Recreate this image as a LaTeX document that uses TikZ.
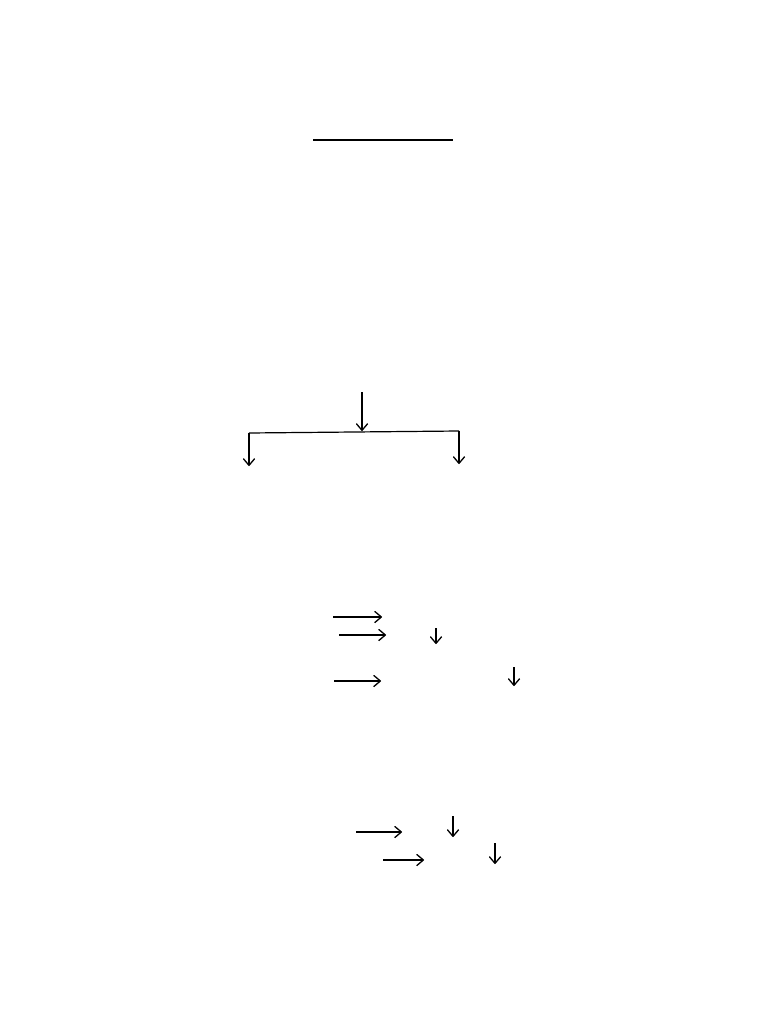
\documentclass[tikz,border=0pt]{standalone}
\usetikzlibrary{arrows.meta}
\begin{document}
\begin{tikzpicture}[x=1pt,y=-1pt,
  conn/.style={line width=1.2pt,draw=black},
  arr/.style={conn,-{Straight Barb[length=6.5pt,width=11pt,line width=1.3pt,round]}},
  rule/.style={line width=2.4pt,draw=black}]
\useasboundingbox[fill=white] (0,0) rectangle (768,1024);
% title rule
\coordinate (ruleL) at (313,140);
\coordinate (ruleR) at (453,140);
\draw[rule] (ruleL) -- (ruleR);
% branching
\coordinate (topS) at (362,392);
\coordinate (topE) at (362,431);
\coordinate (brL) at (249,433);
\coordinate (brR) at (459,431);
\coordinate (leftE) at (249,466);
\coordinate (rightE) at (459,464);
\draw[arr] (topS) -- (topE);
\draw[conn] (brL) -- (brR);
\draw[arr] (brL) -- (leftE);
\draw[arr] (brR) -- (rightE);
% middle group
\coordinate (a1s) at (333,617); \coordinate (a1e) at (382,617);
\coordinate (a2s) at (339,635); \coordinate (a2e) at (386,635);
\coordinate (d1s) at (436,628); \coordinate (d1e) at (436,644);
\coordinate (a3s) at (334,681); \coordinate (a3e) at (381,681);
\coordinate (d2s) at (514,667); \coordinate (d2e) at (514,686);
\draw[arr] (a1s) -- (a1e);
\draw[arr] (a2s) -- (a2e);
\draw[arr] (d1s) -- (d1e);
\draw[arr] (a3s) -- (a3e);
\draw[arr] (d2s) -- (d2e);
% lower group
\coordinate (a4s) at (356,832); \coordinate (a4e) at (402,832);
\coordinate (d3s) at (453,816); \coordinate (d3e) at (453,837);
\coordinate (a5s) at (383,860); \coordinate (a5e) at (424,860);
\coordinate (d4s) at (495,843); \coordinate (d4e) at (495,864);
\draw[arr] (a4s) -- (a4e);
\draw[arr] (d3s) -- (d3e);
\draw[arr] (a5s) -- (a5e);
\draw[arr] (d4s) -- (d4e);
\end{tikzpicture}
\end{document}
